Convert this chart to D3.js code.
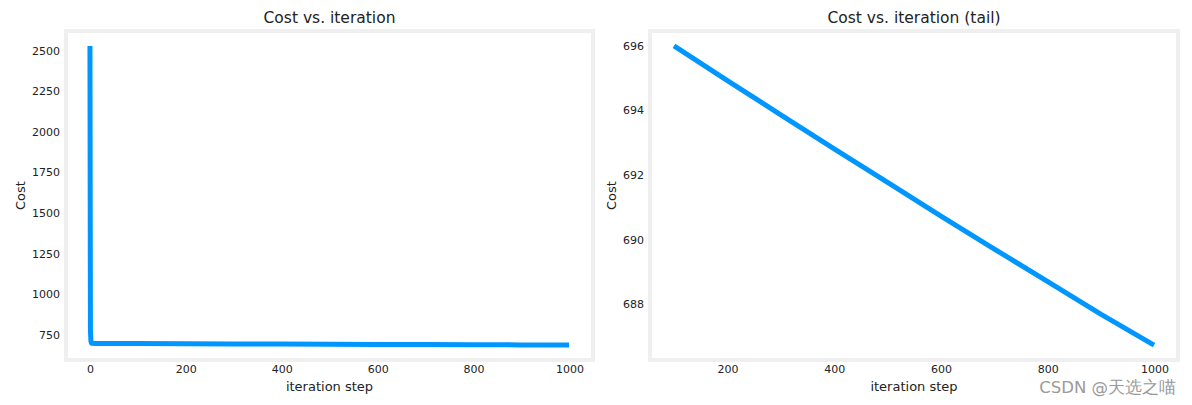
<!DOCTYPE html>
<html>
<head>
<meta charset="utf-8">
<script src="https://cdn.jsdelivr.net/npm/d3@7"></script>
<style>
  html, body { margin: 0; padding: 0; background: #fff; }
  svg { display: block; }
  text { font-family: "DejaVu Sans", sans-serif; }
</style>
</head>
<body>
<svg id="chart" width="1192" height="405"></svg>
<script>
// ---- data ----
const iterAll = [0, 1, 2, 3, 4, 5, 10, 100, 200, 300, 400, 500, 600, 700, 800, 900, 999];
const costAll = [2529.46, 780, 712, 700, 697.5, 697.1, 696.95, 695.99, 694.92, 693.86, 692.81, 691.77, 690.73, 689.71, 688.70, 687.69, 686.74];
const iterTail = [100, 200, 300, 400, 500, 600, 700, 800, 900, 999];
const costTail = [695.99, 694.92, 693.86, 692.81, 691.77, 690.73, 689.71, 688.70, 687.69, 686.74];
const leftXTicks = [0, 200, 400, 600, 800, 1000];
const leftYTicks = [750, 1000, 1250, 1500, 1750, 2000, 2250, 2500];
const rightXTicks = [200, 400, 600, 800, 1000];
const rightYTicks = [688, 690, 692, 694, 696];
const titles = ["Cost vs. iteration", "Cost vs. iteration (tail)"];
const xLabel = "iteration step";
const yLabel = "Cost";
const watermark = "CSDN @天选之喵";

const svg = d3.select("#chart");
const lineColor = "#0096ff";

function panel(x0, x1, y0, y1, xs, ys, xTicks, yTicks, title, yLabelOffset) {
  const xExt = d3.extent(xs), yExt = d3.extent(ys);
  const xm = (xExt[1] - xExt[0]) * 0.05, ym = (yExt[1] - yExt[0]) * 0.05;
  const x = d3.scaleLinear().domain([xExt[0] - xm, xExt[1] + xm]).range([x0, x1]);
  const y = d3.scaleLinear().domain([yExt[0] - ym, yExt[1] + ym]).range([y1, y0]);
  const g = svg.append("g");

  // frame
  g.append("rect").attr("x", x0).attr("y", y0)
    .attr("width", x1 - x0).attr("height", y1 - y0)
    .attr("fill", "#fff").attr("stroke", "#efefef").attr("stroke-width", 4);

  // axes
  const xa = g.append("g").attr("transform", `translate(0,${y1})`)
    .call(d3.axisBottom(x).tickValues(xTicks).tickSize(0).tickPadding(5).tickFormat(d3.format("d")));
  const ya = g.append("g").attr("transform", `translate(${x0},0)`)
    .call(d3.axisLeft(y).tickValues(yTicks).tickSize(0).tickPadding(6).tickFormat(d3.format("d")));
  [xa, ya].forEach(a => {
    a.select(".domain").remove();
    a.selectAll("text").attr("font-size", 11).attr("fill", "#222")
      .attr("font-family", "DejaVu Sans, sans-serif");
  });

  // line
  const line = d3.line().x((d, i) => x(xs[i])).y((d, i) => y(ys[i]));
  g.append("path").datum(ys).attr("d", line)
    .attr("fill", "none").attr("stroke", lineColor)
    .attr("stroke-width", 5).attr("stroke-linejoin", "round");

  // title & labels
  const cx = (x0 + x1) / 2;
  g.append("text").attr("x", cx).attr("y", 23).attr("text-anchor", "middle")
    .attr("font-size", 15.5).attr("fill", "#222").text(title);
  g.append("text").attr("x", cx).attr("y", 391).attr("text-anchor", "middle")
    .attr("font-size", 13).attr("fill", "#222").text(xLabel);
  g.append("text").attr("transform", `translate(${x0 - yLabelOffset},${(y0 + y1) / 2}) rotate(-90)`)
    .attr("dy", "0.35em")
    .attr("text-anchor", "middle").attr("font-size", 13).attr("fill", "#222").text(yLabel);
}

panel(66, 593, 31, 360, iterAll, costAll, leftXTicks, leftYTicks, titles[0], 46);
panel(650, 1178, 31, 360, iterTail, costTail, rightXTicks, rightYTicks, titles[1], 39);

svg.append("text").attr("x", 1176).attr("y", 393).attr("text-anchor", "end")
  .attr("font-family", "Noto Sans CJK SC, sans-serif").attr("font-size", 16.5)
  .attr("fill", "#9a9a9a").text(watermark);
</script>
</body>
</html>
